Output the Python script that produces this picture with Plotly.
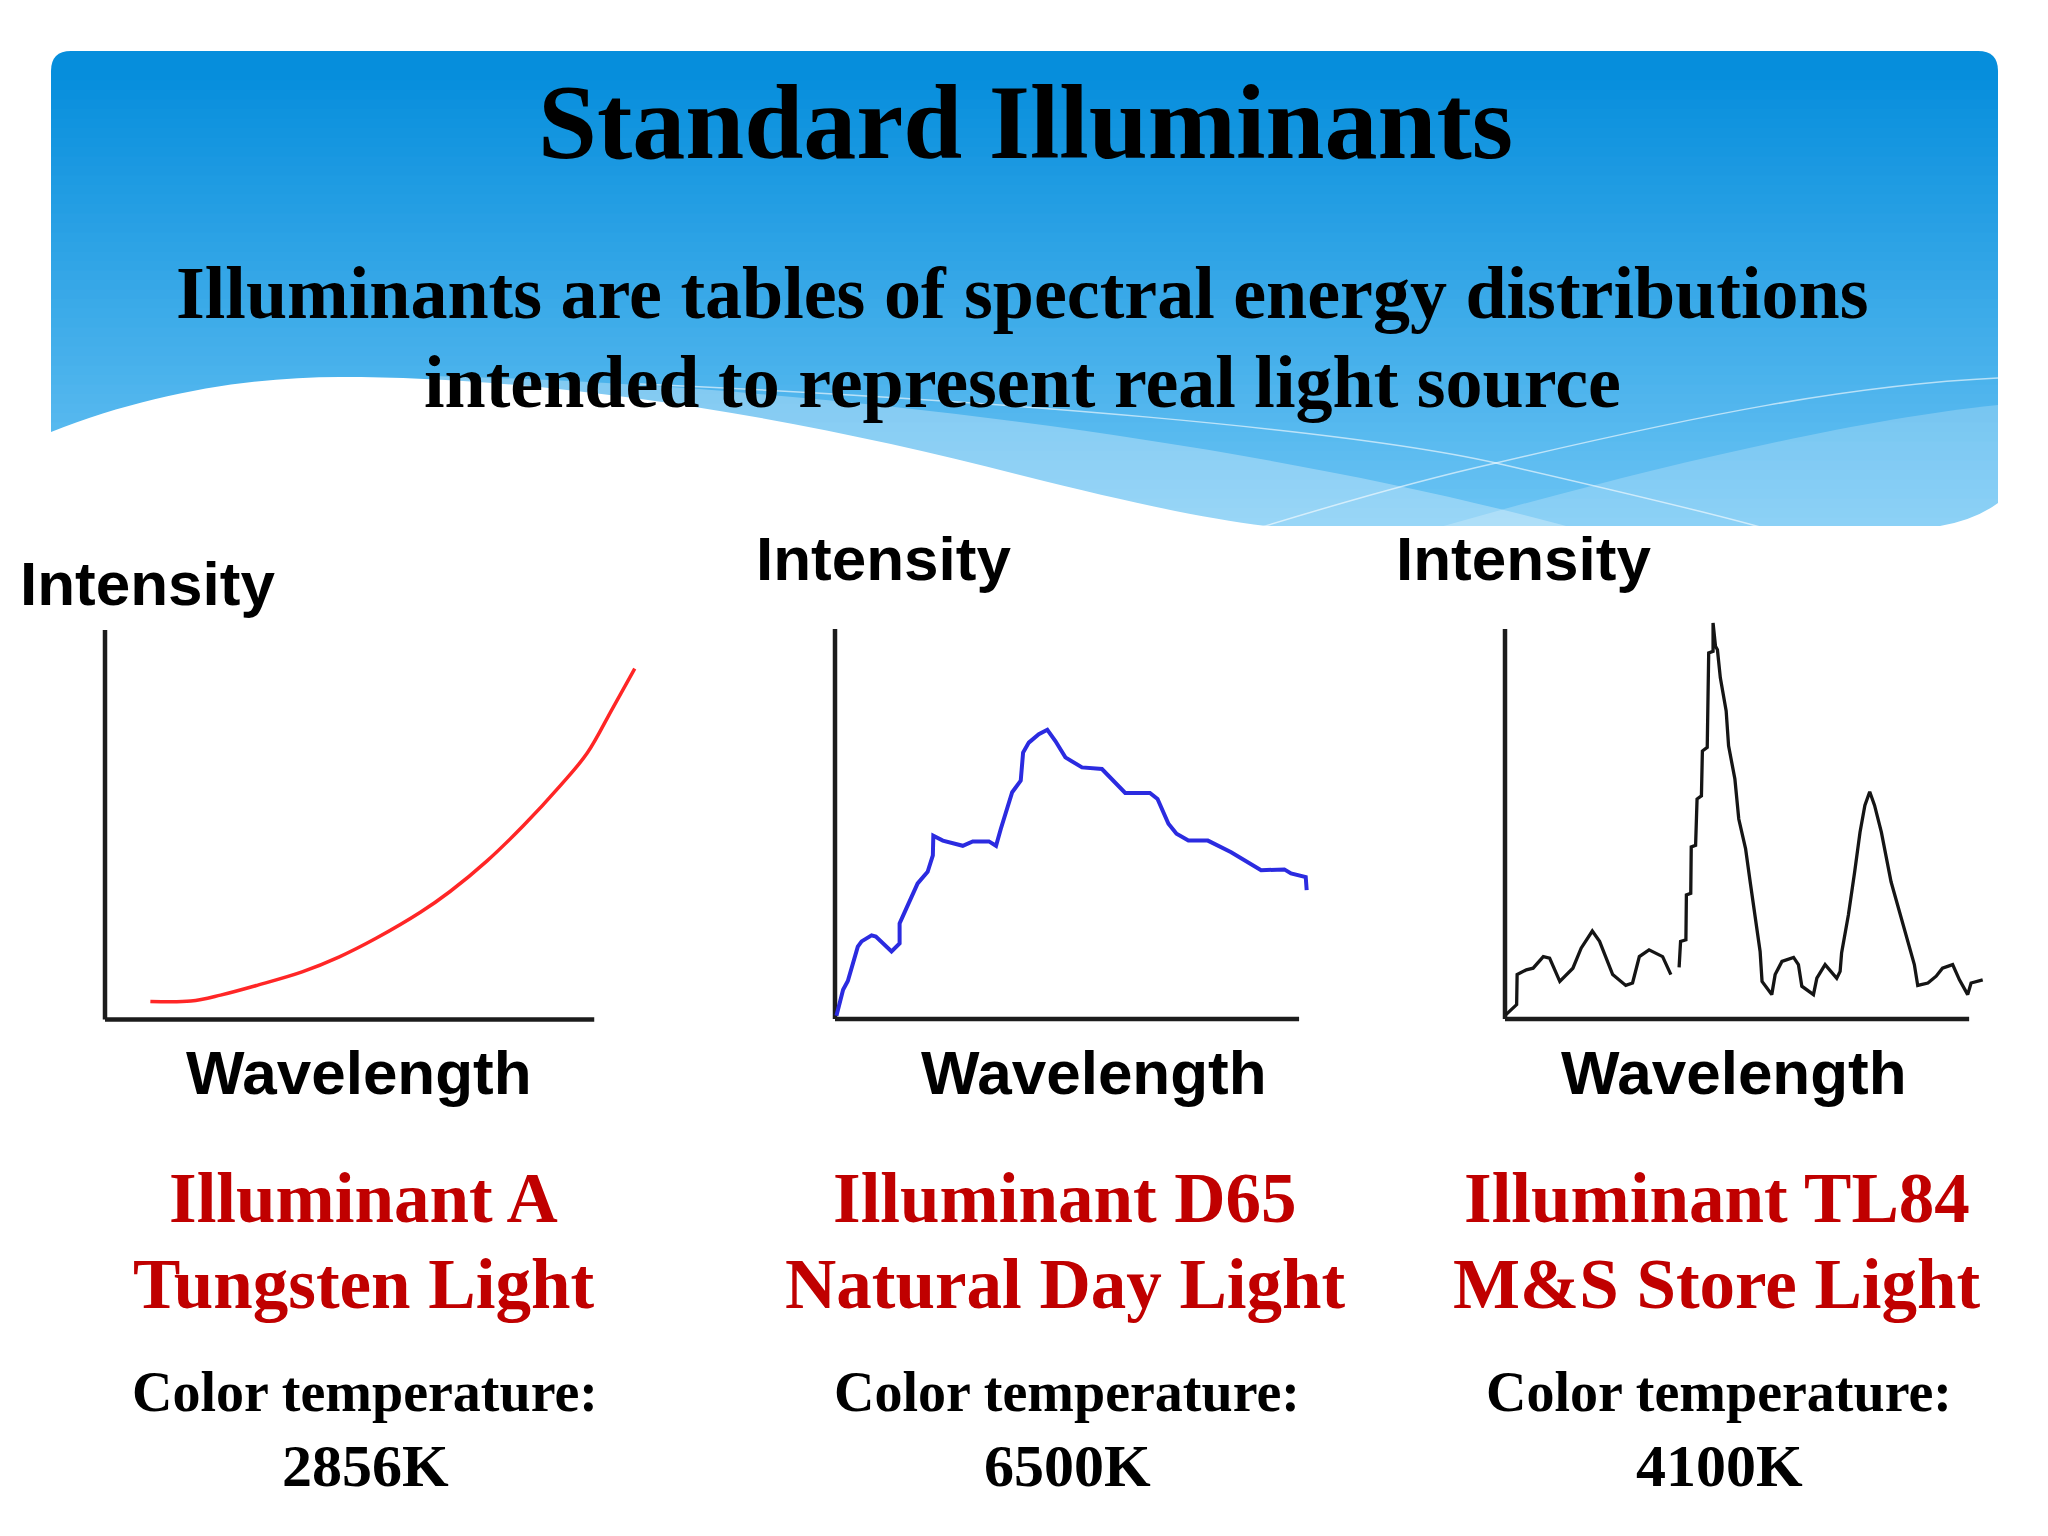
import plotly.graph_objects as go

W, H = 2048, 1536

# ---------------- data ----------------
# Illuminant A (tungsten) - relative units
a_wl = [8.4, 15.9, 21.4, 28.3, 36.5, 43.3, 50.2, 58.4, 63.9, 70.7, 77.5, 84.4, 89.3, 94.0, 98.1]
a_int = [4.5, 4.6, 6.1, 8.6, 11.9, 15.6, 20.3, 26.8, 32.0, 39.6, 48.5, 58.6, 66.6, 77.8, 87.7]

# Illuminant D65 (daylight)
d65_wl = [0.3, 1.7, 2.7, 4.8, 5.6, 7.7, 8.6, 11.9, 13.6, 13.6, 15.0, 17.4, 19.5, 20.6, 20.7, 22.7,
          26.9, 29.0, 32.4, 33.9, 34.9, 35.9, 37.3, 39.1, 39.6, 40.8, 42.9, 44.7, 46.4, 48.5,
          52.0, 56.2, 58.3, 61.1, 66.3, 67.9, 70.2, 71.9, 74.4, 78.5, 83.4, 87.6, 89.7, 94.6,
          96.0, 99.1, 99.3]
d65_int = [0.8, 7.3, 9.5, 18.1, 19.4, 20.9, 20.6, 16.9, 18.9, 23.9, 27.6, 33.9, 36.8, 40.9, 45.8, 44.6,
           43.3, 44.4, 44.4, 43.3, 47.5, 51.7, 56.7, 59.6, 66.6, 69.1, 71.2, 72.3, 69.5, 65.4,
           62.9, 62.5, 60.0, 56.5, 56.5, 55.0, 48.8, 46.3, 44.6, 44.6, 41.7, 38.8, 37.2, 37.4,
           36.4, 35.5, 32.2]

# Illuminant TL84 (fluorescent store light); None = break in the trace
tl84_wl = [0.2, 2.4, 2.5, 4.4, 5.8, 7.9, 9.2, 11.3, 14.0, 15.7, 18.0, 19.5, 22.2, 24.9, 26.3, 27.7,
           29.7, 32.5, 34.2, None,
           35.9, 36.2, 37.3, 37.4, 38.3, 38.4, 39.3, 39.6, 40.5, 40.7, 41.7, 41.9, 42.0, 42.9,
           42.9, 43.4, 43.8, 44.4, 45.6, 46.1, 47.4, 48.2, 49.6, 50.6, 51.6, 52.6, 53.0, 55.0,
           55.7, 57.1, 59.5, 60.5, 61.2, 63.6, 64.3, 66.0, 68.4, 69.1, 69.4, 70.8, 72.1, 73.2,
           74.2, 75.2, 76.2, 77.6, 79.6, 82.0, 84.4, 85.1, 87.2, 88.9, 90.2, 92.3, 93.7, 95.4,
           96.1, 98.5]
tl84_int = [1.1, 3.6, 11.1, 12.3, 12.7, 15.6, 15.2, 9.4, 12.7, 17.7, 22.0, 19.4, 11.1, 8.4, 9.0, 15.6,
            17.3, 15.6, 11.1, None,
            12.9, 19.4, 19.8, 31.0, 31.4, 43.0, 43.4, 55.0, 55.8, 67.0, 67.9, 79.9, 91.5, 91.9,
            99.0, 93.2, 92.3, 85.3, 77.0, 68.3, 60.0, 50.0, 42.6, 33.9, 25.2, 16.9, 9.4, 6.1,
            11.1, 14.4, 15.4, 13.6, 8.2, 6.1, 10.2, 13.6, 10.2, 11.9, 16.5, 26.0, 36.8, 46.7,
            53.4, 56.8, 53.4, 46.7, 34.3, 24.3, 13.6, 8.4, 9.0, 10.7, 12.7, 13.6, 9.8, 6.1,
            9.0, 9.8]

title_text = "Standard Illuminants"
subtitle_lines = ["Illuminants are tables of spectral energy distributions",
                  "intended to represent real light source"]
illuminant_names = ["Illuminant A", "Illuminant D65", "Illuminant TL84"]
light_names = ["Tungsten Light", "Natural Day Light", "M&S Store Light"]
temp_label = "Color temperature:"
temperatures = ["2856K", "6500K", "4100K"]
y_label = "Intensity"
x_label = "Wavelength"

# ---------------- helpers ----------------
def X(px):
    return px / W

def Y(py):
    return 1 - py / H

def path(cmds):
    out = []
    for c in cmds:
        if isinstance(c, str):
            out.append(c)
        else:
            out.append(f"{X(c[0]):.5f},{Y(c[1]):.5f}")
    return " ".join(out)

fig = go.Figure()

# ---------------- header background ----------------
shapes = []
top_c = (6, 142, 220)
bot_c = (108, 196, 244)
L, R, T, B = 51, 1998, 51, 527
r = 20
shapes.append(dict(type="path", xref="paper", yref="paper", layer="below",
                   path=path(["M", (L, T + r), "Q", (L, T), (L + r, T), "L", (R - r, T), "Q", (R, T), (R, T + r),
                              "L", (R, T + 24), "L", (L, T + 24), "Z"]),
                   fillcolor=f"rgb{top_c}", line=dict(width=0)))
n = 48
y0 = T + 20
step = (B - y0) / n
for i in range(n):
    t = i / (n - 1)
    col = tuple(int(round(top_c[k] + (bot_c[k] - top_c[k]) * t)) for k in range(3))
    ya = y0 + i * step
    yb = min(ya + step + 1, B)
    shapes.append(dict(type="rect", xref="paper", yref="paper", layer="below",
                       x0=X(L), x1=X(R), y0=Y(yb), y1=Y(ya),
                       fillcolor=f"rgb{col}", line=dict(width=0)))
# lighter band just above the wave
shapes.append(dict(type="path", xref="paper", yref="paper", layer="below",
                   path=path(["M", (430, 376), "C", (800, 384), (1250, 440), (1570, 527),
                              "L", (430, 527), "Z"]),
                   fillcolor="rgba(255,255,255,0.30)", line=dict(width=0)))
# lighter band on the right
shapes.append(dict(type="path", xref="paper", yref="paper", layer="below",
                   path=path(["M", (1440, 527), "C", (1640, 470), (1850, 420), (R, 405),
                              "L", (R, 527), "Z"]),
                   fillcolor="rgba(255,255,255,0.22)", line=dict(width=0)))
# thin crossing lines
shapes.append(dict(type="path", xref="paper", yref="paper", layer="below",
                   path=path(["M", (640, 384), "C", (1000, 400), (1350, 430), (1496, 463),
                              "C", (1600, 487), (1700, 510), (1760, 527)]),
                   line=dict(color="rgba(255,255,255,0.6)", width=1.5)))
shapes.append(dict(type="path", xref="paper", yref="paper", layer="below",
                   path=path(["M", (1262, 527), "C", (1350, 500), (1420, 480), (1496, 463),
                              "C", (1700, 415), (1850, 385), (R, 378)]),
                   line=dict(color="rgba(255,255,255,0.6)", width=1.5)))
# white wave covering lower-left
shapes.append(dict(type="path", xref="paper", yref="paper", layer="below",
                   path=path(["M", (L - 5, 434), "L", (L, 432), "C", (150, 393), (250, 377), (340, 377),
                              "C", (560, 377), (800, 418), (1024, 476),
                              "C", (1120, 500), (1200, 518), (1266, 526),
                              "L", (1940, 526), "Q", (1975, 520), (R, 503),
                              "L", (R + 5, 503), "L", (R + 5, 540), "L", (L - 5, 540), "Z"]),
                   fillcolor="white", line=dict(width=0)))

# ---------------- charts ----------------
# pixel position of value 0 and value 100 on each axis
charts = [
    dict(wl=a_wl, val=a_int, color="#ff2626", width=3.5, shape="spline",
         xpx=(105, 645), ypx=(1019.5, 619.5), xend=90.6, yend=97.4),
    dict(wl=d65_wl, val=d65_int, color="#2b2be0", width=4, shape="linear",
         xpx=(835, 1310), ypx=(1019, 619), xend=97.7, yend=97.5),
    dict(wl=tl84_wl, val=tl84_int, color="#151515", width=3.3, shape="linear",
         xpx=(1505, 1990), ypx=(1019, 619), xend=95.7, yend=97.5),
]
PAD = 3
for i, c in enumerate(charts):
    sfx = "" if i == 0 else str(i + 1)
    xppu = (c["xpx"][1] - c["xpx"][0]) / 100
    yppu = (c["ypx"][0] - c["ypx"][1]) / 100
    xd = [X(c["xpx"][0] - PAD * xppu), X(c["xpx"][1] + PAD * xppu)]
    yd = [Y(c["ypx"][0] + PAD * yppu), Y(c["ypx"][1] - PAD * yppu)]
    fig.add_trace(go.Scatter(x=c["wl"], y=c["val"], mode="lines",
                             line=dict(color=c["color"], width=c["width"], shape=c["shape"]),
                             connectgaps=False, hoverinfo="skip", showlegend=False,
                             xaxis="x" + sfx, yaxis="y" + sfx))
    fig.layout["xaxis" + sfx] = dict(domain=xd, range=[-PAD, 100 + PAD], visible=False,
                                    fixedrange=True, anchor="y" + sfx)
    fig.layout["yaxis" + sfx] = dict(domain=yd, range=[-PAD, 100 + PAD], visible=False,
                                    fixedrange=True, anchor="x" + sfx)
    axcol = "#1c1c1c"
    shapes.append(dict(type="line", xref="x" + sfx, yref="y" + sfx, x0=0, y0=0, x1=0, y1=c["yend"],
                       line=dict(color=axcol, width=4.5), layer="below"))
    shapes.append(dict(type="line", xref="x" + sfx, yref="y" + sfx, x0=0, y0=0, x1=c["xend"], y1=0,
                       line=dict(color=axcol, width=4.5), layer="below"))

# ---------------- text ----------------
ann = []
def txt(s, px, py, size, family, color="#000000", bold=True):
    ann.append(dict(text=f"<b>{s}</b>" if bold else s, x=X(px), y=Y(py), xref="paper", yref="paper",
                    xanchor="center", yanchor="middle", showarrow=False,
                    font=dict(family=family, size=size, color=color)))

serif = "Liberation Serif, Times New Roman, serif"
sans = "Liberation Sans, Arial, sans-serif"

txt(title_text, 1025, 122, 106, serif)
txt(subtitle_lines[0], 1022, 293, 74, serif)
txt(subtitle_lines[1], 1022, 382, 74, serif)

int_pos = [(147, 583), (883, 558), (1523, 558)]
wav_pos = [(359, 1072), (1094, 1072), (1734, 1072)]
col_x = [363, 1065, 1717]
for i in range(3):
    txt(y_label, int_pos[i][0], int_pos[i][1], 62, sans)
    txt(x_label, wav_pos[i][0], wav_pos[i][1], 62, sans)
    txt(illuminant_names[i], col_x[i], 1198, 71, serif, color="#c00000")
    txt(light_names[i], col_x[i], 1284, 71, serif, color="#c00000")
    txt(temp_label, col_x[i] + 2, 1392, 56, serif)
    txt(temperatures[i], col_x[i] + 2, 1466, 60, serif)

fig.update_layout(width=W, height=H, autosize=False, margin=dict(l=0, r=0, t=0, b=0, pad=0),
                  paper_bgcolor="white", plot_bgcolor="rgba(0,0,0,0)",
                  shapes=shapes, annotations=ann, showlegend=False)

fig.write_html("out.html", config=dict(displayModeBar=False))
